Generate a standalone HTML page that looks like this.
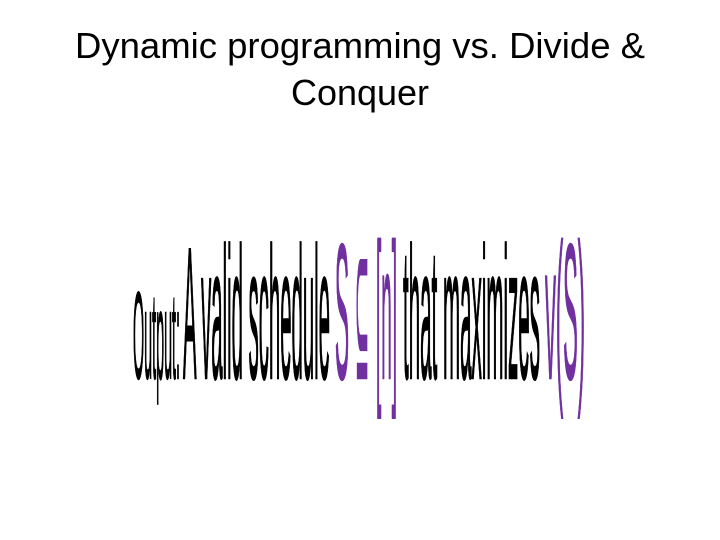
<!DOCTYPE html>
<html><head><style>html,body{margin:0;padding:0;background:#fff;}</style></head>
<body>
<svg width="720" height="540" xmlns="http://www.w3.org/2000/svg" style="display:block">
<rect width="720" height="540" fill="#fff"/>
<g font-family="Liberation Sans, sans-serif" fill="#000">
<text x="75" y="58" font-size="36" textLength="570" lengthAdjust="spacingAndGlyphs">Dynamic programming vs. Divide &amp;</text>
<text x="291" y="105" font-size="36" textLength="138" lengthAdjust="spacingAndGlyphs">Conquer</text>
</g>
<g transform="translate(0,378) scale(1,4.8)" font-family="Liberation Sans, sans-serif" stroke-width="0.5">
<text x="133" y="0" font-size="25.5" fill="#000" stroke="#000" textLength="47" lengthAdjust="spacingAndGlyphs">Output:</text>
<text x="183" y="0" font-size="39" fill="#000" stroke="#000" textLength="147" lengthAdjust="spacingAndGlyphs">A valid schedule</text>
<text x="335" y="0" font-size="40" fill="#7030a0" stroke="#7030a0" textLength="14" lengthAdjust="spacingAndGlyphs">S</text>
<text x="355" y="0" font-size="40" fill="#7030a0" stroke="#7030a0" textLength="14" lengthAdjust="spacingAndGlyphs">⊆</text>
<text x="376" y="0" font-size="40" fill="#7030a0" stroke="#7030a0" textLength="21" lengthAdjust="spacingAndGlyphs">[n]</text>
<text x="403" y="0" font-size="39" fill="#000" stroke="#000" textLength="137" lengthAdjust="spacingAndGlyphs">that maximizes</text>
<text x="545" y="0" font-size="40" fill="#7030a0" stroke="#7030a0" textLength="40" lengthAdjust="spacingAndGlyphs">v(S)</text>
</g>
</svg>
</body></html>
